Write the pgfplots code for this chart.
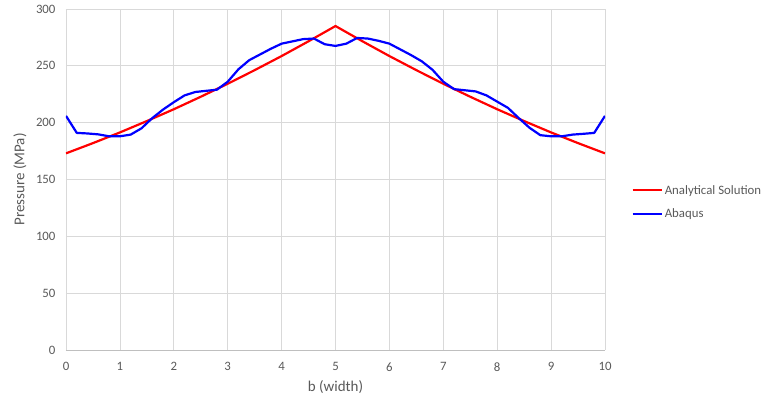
\documentclass[border=0pt]{standalone}
\usepackage{fontspec}
\setmainfont{Carlito}
\usepackage{pgfplots}
\pgfplotsset{compat=1.18}
\definecolor{txtgray}{RGB}{89,89,89}
\definecolor{gridgray}{RGB}{217,217,217}
\definecolor{axgray}{RGB}{191,191,191}
\definecolor{xred}{RGB}{255,0,0}
\definecolor{xblue}{RGB}{0,0,255}
\begin{document}
\begin{tikzpicture}[x=1pt,y=1pt]
\path[use as bounding box] (-66,-54) rectangle (702,350);
\begin{axis}[
  at={(0,0)}, anchor=south west,
  scale only axis, width=539pt, height=341pt,
  xmin=0, xmax=10, ymin=0, ymax=300,
  xtick={0,1,...,10}, ytick={0,50,...,300},
  grid=major, major grid style={gridgray, line width=0.75pt},
  axis x line*=bottom, axis y line*=left,
  x axis line style={axgray, line width=0.75pt, -},
  y axis line style={draw=none},
  major tick length=0pt,
  tick label style={font=\fontsize{12.8}{15}\selectfont, text=txtgray},
  /pgf/number format/assume math mode=true,
  xticklabel style={yshift=-9pt},
  yticklabel style={xshift=-7pt},
  xlabel={b (width)}, ylabel={Pressure (MPa)},
  label style={font=\fontsize{15}{18}\selectfont, text=txtgray},
  xlabel style={at={(axis description cs:0.5,0)}, anchor=center, yshift=-37pt},
  ylabel style={at={(axis description cs:0,0.5)}, anchor=center, yshift=46pt},
  legend style={draw=none, fill=none, at={(1.049,0.434)}, anchor=west,
    font=\fontsize{12.8}{15}\selectfont, text=txtgray, row sep=9pt,
    inner sep=0pt},
  legend cell align=left,
  legend image code/.code={\draw[#1] (0pt,0pt) -- (29pt,0pt);},
]
\addplot[xred, line width=2.2pt] coordinates {
(0,173) (0.5,182) (1,191.4) (1.5,201.4) (2,211.8) (2.5,222.8) (3,234.2)
(3.5,246.2) (4,258.6) (4.5,271.6) (5,285)
(5.5,271.6) (6,258.6) (6.5,246.2) (7,234.2) (7.5,222.8) (8,211.8) (8.5,201.4)
(9,191.4) (9.5,182) (10,173)};
\addlegendentry{Analytical Solution}
\addplot[xblue, line width=2.2pt, line join=round] coordinates {
(0,206) (0.2,191) (0.4,190.5) (0.6,189.7) (0.8,188) (1.0,188) (1.2,189.5)
(1.4,195) (1.6,204) (1.8,211.5) (2.0,218) (2.2,224) (2.4,227) (2.6,228) (2.8,229)
(3.0,236) (3.2,247) (3.4,255) (3.6,260) (3.8,265) (4.0,269.5) (4.2,271.5)
(4.4,273.5) (4.6,274) (4.8,269) (5.0,267.5) (5.2,269.5) (5.4,274.5) (5.6,274)
(5.8,272) (6.0,269.5) (6.2,264.5) (6.4,259.5) (6.6,254) (6.8,246.5) (7.0,236)
(7.2,229.5) (7.4,228.5) (7.6,227.5) (7.8,224) (8.0,218.5) (8.2,213) (8.4,204)
(8.6,195.5) (8.8,189) (9.0,188) (9.2,188) (9.4,189.5) (9.6,190.2) (9.8,191) (10,206)};
\addlegendentry{Abaqus}
\end{axis}
\end{tikzpicture}
\end{document}
